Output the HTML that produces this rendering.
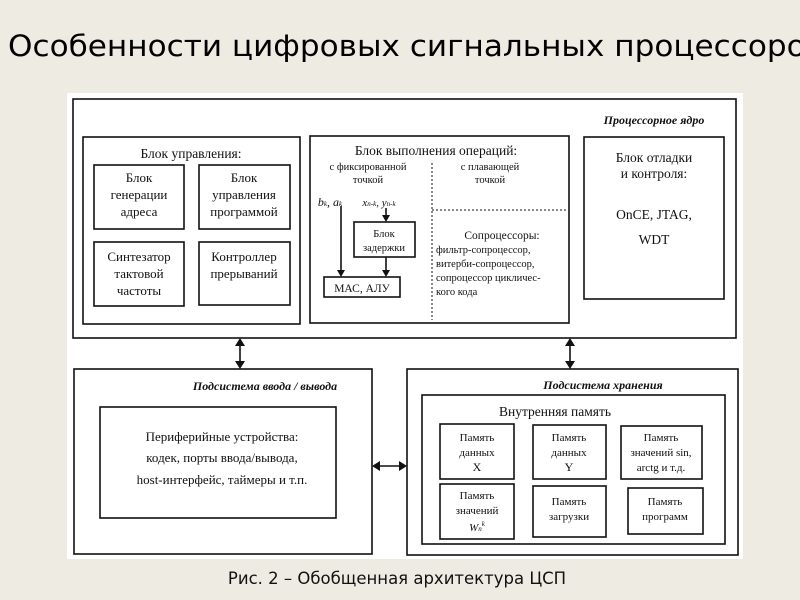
<!DOCTYPE html>
<html><head><meta charset="utf-8"><style>
html,body{margin:0;padding:0;background:#EEEBE2;width:800px;height:600px;overflow:hidden}
svg{display:block}
</style></head><body>
<svg width="800" height="600" viewBox="0 0 800 600" xmlns="http://www.w3.org/2000/svg">
<rect width="800" height="600" fill="#EEEBE2"/>
<text x="8" y="56" font-family="DejaVu Sans, sans-serif" font-size="29" fill="#000" textLength="816" lengthAdjust="spacingAndGlyphs">Особенности цифровых сигнальных процессоров</text>
<rect x="67" y="93" width="676" height="466" fill="#fff"/>
<g fill="none" stroke="#111" stroke-width="1.6">
<rect x="73" y="99" width="663" height="239"/>
<rect x="83" y="137" width="217" height="187"/>
<rect x="94" y="165" width="90" height="64"/>
<rect x="199" y="165" width="91" height="64"/>
<rect x="94" y="242" width="90" height="64"/>
<rect x="199" y="242" width="91" height="63"/>
<rect x="310" y="136" width="259" height="187"/>
<rect x="354" y="222" width="61" height="35"/>
<rect x="324" y="277" width="76" height="20"/>
<rect x="584" y="137" width="140" height="162"/>
<rect x="74" y="369" width="298" height="185"/>
<rect x="100" y="407" width="236" height="111"/>
<rect x="407" y="369" width="331" height="186"/>
<rect x="422" y="395" width="303" height="149"/>
<rect x="440" y="424" width="74" height="55"/>
<rect x="533" y="425" width="73" height="54"/>
<rect x="621" y="426" width="81" height="53"/>
<rect x="440" y="484" width="74" height="55"/>
<rect x="533" y="486" width="73" height="51"/>
<rect x="628" y="488" width="75" height="46"/>
</g>
<g stroke="#111" stroke-width="1" stroke-dasharray="2,2" fill="none">
<line x1="432" y1="163" x2="432" y2="320"/>
<line x1="432" y1="210" x2="566" y2="210"/>
</g>
<g stroke="#111" stroke-width="1.6">
<line x1="341" y1="206" x2="341" y2="271"/>
<line x1="386" y1="208" x2="386" y2="216"/>
<line x1="386" y1="257" x2="386" y2="271"/>
<line x1="240" y1="344" x2="240" y2="363"/>
<line x1="570" y1="344" x2="570" y2="363"/>
<line x1="378" y1="466" x2="401" y2="466"/>
</g>
<g fill="#111">
<polygon points="337,270 345,270 341,277"/>
<polygon points="382,215 390,215 386,222"/>
<polygon points="382,270 390,270 386,277"/>
<polygon points="235,346 245,346 240,338"/>
<polygon points="235,361 245,361 240,369"/>
<polygon points="565,346 575,346 570,338"/>
<polygon points="565,361 575,361 570,369"/>
<polygon points="380,461 380,471 372,466"/>
<polygon points="399,461 399,471 407,466"/>
</g>
<g font-family="Liberation Serif, serif" fill="#111" text-anchor="middle" font-size="13">
<text x="191" y="158" font-size="13.5">Блок управления:</text>
<text x="139" y="182">Блок</text><text x="139" y="199">генерации</text><text x="139" y="216">адреса</text>
<text x="244" y="182">Блок</text><text x="244" y="199">управления</text><text x="244" y="216">программой</text>
<text x="139" y="261">Синтезатор</text><text x="139" y="278">тактовой</text><text x="139" y="295">частоты</text>
<text x="244" y="261">Контроллер</text><text x="244" y="278">прерываний</text>
<text x="436" y="155" font-size="13.5">Блок выполнения операций:</text>
<text x="368" y="170" font-size="10.5">с фиксированной</text><text x="368" y="183" font-size="10.5">точкой</text>
<text x="490" y="170" font-size="10.5">с плавающей</text><text x="490" y="183" font-size="10.5">точкой</text>
<text x="330" y="206" font-size="12" font-style="italic">b<tspan font-size="7">k</tspan>, a<tspan font-size="7">k</tspan></text>
<text x="379" y="206" font-size="11" font-style="italic">x<tspan font-size="7">n-k</tspan>, y<tspan font-size="7">n-k</tspan></text>
<text x="384" y="237" font-size="10.5">Блок</text><text x="384" y="251" font-size="10.5">задержки</text>
<text x="362" y="292" font-size="11.5">МАС, АЛУ</text>
<text x="502" y="239" font-size="11.5">Сопроцессоры:</text>
<g text-anchor="start" font-size="10.5"><text x="436" y="253">фильтр-сопроцессор,</text><text x="436" y="267">витерби-сопроцессор,</text><text x="436" y="281">сопроцессор цикличес-</text><text x="436" y="295">кого кода</text></g>
<text x="654" y="124" font-size="12" font-weight="bold" font-style="italic">Процессорное ядро</text>
<text x="654" y="162" font-size="13.5">Блок отладки</text><text x="654" y="178" font-size="13.5">и контроля:</text>
<text x="654" y="219" font-size="13.5">OnCE, JTAG,</text><text x="654" y="244" font-size="13.5">WDT</text>
<text x="265" y="390" font-size="12" font-weight="bold" font-style="italic">Подсистема ввода / вывода</text>
<text x="222" y="441" font-size="13">Периферийные устройства:</text>
<text x="222" y="462" font-size="13">кодек, порты ввода/вывода,</text>
<text x="222" y="484" font-size="13">host-интерфейс, таймеры и т.п.</text>
<text x="603" y="389" font-size="12" font-weight="bold" font-style="italic">Подсистема хранения</text>
<text x="555" y="416" font-size="13.5">Внутренняя память</text>
<g font-size="11">
<text x="477" y="441">Память</text><text x="477" y="456">данных</text><text x="477" y="471" font-size="12">X</text>
<text x="569" y="441">Память</text><text x="569" y="456">данных</text><text x="569" y="471" font-size="12">Y</text>
<text x="661" y="441">Память</text><text x="661" y="456">значений sin,</text><text x="661" y="471">arctg  и т.д.</text>
<text x="477" y="499">Память</text><text x="477" y="514">значений</text><text x="477" y="531" font-style="italic">W<tspan font-size="7">n</tspan><tspan font-size="7" dy="-5">k</tspan></text>
<text x="569" y="505">Память</text><text x="569" y="520">загрузки</text>
<text x="665" y="505">Память</text><text x="665" y="520">программ</text>
</g>
</g>
<text x="397" y="584" font-family="DejaVu Sans, sans-serif" font-size="16.5" fill="#111" text-anchor="middle">Рис. 2 – Обобщенная архитектура ЦСП</text>
</svg>
</body></html>
